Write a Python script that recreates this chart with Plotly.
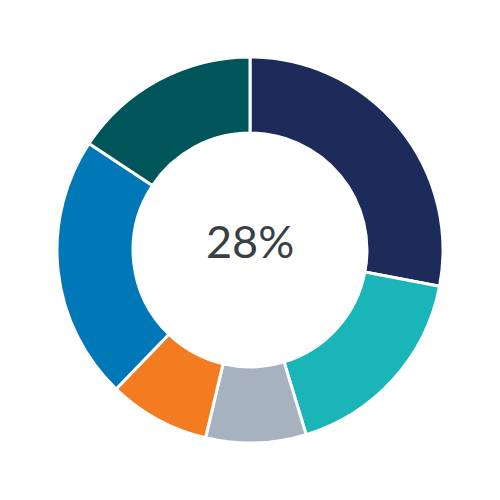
import plotly.graph_objects as go

labels = ["A", "B", "C", "D", "E", "F"]
values = [28, 17.3, 8.4, 8.5, 22.1, 15.7]
colors = ["#1c2b5a", "#1ab5b8", "#a7b2c1", "#f37c20", "#0077b6", "#00555a"]
center_text = "28%"

fig = go.Figure(go.Pie(
    labels=labels,
    values=values,
    hole=0.606,
    sort=False,
    direction="clockwise",
    rotation=0,
    marker=dict(colors=colors, line=dict(color="white", width=3)),
    textinfo="none",
    hoverinfo="none",
    domain=dict(x=[0.098, 0.870], y=[0.130, 0.902]),
    showlegend=False,
))

fig.add_annotation(
    text=center_text, x=0.483, y=0.533, xref="paper", yref="paper",
    showarrow=False, font=dict(family="Lato", size=45, color="#3a3e46"),
)

fig.update_layout(
    width=500, height=500,
    margin=dict(l=0, r=0, t=0, b=0),
    paper_bgcolor="white", plot_bgcolor="white",
)

fig.write_html("out.html")
